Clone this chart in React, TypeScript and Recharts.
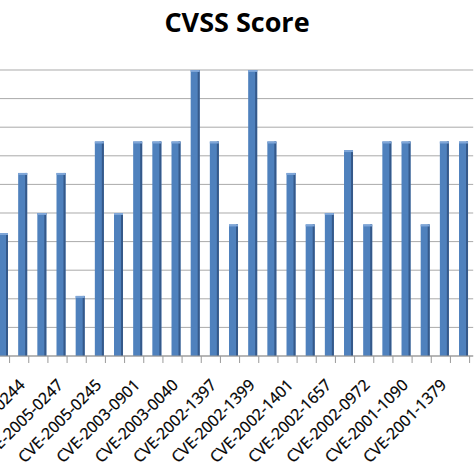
import { BarChart, Bar, XAxis, YAxis, CartesianGrid } from 'recharts'

// categories shown on the axis (every other bar carries a label)
const labels = [
  '', 'CVE-2005-0244', '', 'CVE-2005-0247', '', 'CVE-2005-0245', '', 'CVE-2003-0901',
  '', 'CVE-2003-0040', '', 'CVE-2002-1397', '', 'CVE-2002-1399', '', 'CVE-2002-1401',
  '', 'CVE-2002-1657', '', 'CVE-2002-0972', '', 'CVE-2001-1090', '', 'CVE-2001-1379', ''
]

const scores = [
  4.3, 6.4, 5.0, 6.4, 2.1, 7.5, 5.0, 7.5, 7.5, 7.5, 10.0, 7.5, 4.6,
  10.0, 7.5, 6.4, 4.6, 5.0, 7.2, 4.6, 7.5, 7.5, 4.6, 7.5, 7.5
]

const yTicks = [0, 1, 2, 3, 4, 5, 6, 7, 8, 9, 10]

const data = scores.map((v, i) => ({ idx: i, score: v }))

const Column = (props: any) => {
  const { x, y, width, height } = props
  if (!height || height <= 0) return null
  return (
    <g>
      <rect x={x} y={y} width={width} height={height} fill="#4f81bd" />
      <rect x={x + width - 2} y={y} width={2} height={height} fill="#35598a" />
      <rect x={x} y={y} width={width} height={2} fill="#7fa6d8" />
    </g>
  )
}

const Tick = (props: any) => {
  const { x, y, payload } = props
  const text = labels[payload.value] || ''
  const ax = x + 3
  const ay = y + 30
  return (
    <g>
      <line x1={x + 6} y1={y} x2={x + 6} y2={y + 7} stroke="#9a9a9a" />
      {text && (
        <text
          x={ax}
          y={ay}
          textAnchor="end"
          transform={`rotate(-45 ${ax} ${ay})`}
          fontFamily="'Open Sans', sans-serif"
          fontSize={15.7}
          fill="#000"
          stroke="#000"
          strokeWidth={0.25}
        >
          {text}
        </text>
      )}
    </g>
  )
}

export default function App () {
  return (
    <div style={{ position: 'fixed', left: 0, top: 0, width: 474, height: 474, overflow: 'hidden', background: '#fff' }}>
      <div
        style={{
          position: 'absolute',
          top: 8,
          left: 0,
          width: 474,
          textAlign: 'center',
          fontFamily: "'Open Sans', sans-serif",
          fontWeight: 700,
          fontSize: 27,
          lineHeight: '27px',
          color: '#000'
        }}
      >
        CVSS Score
      </div>
      <div style={{ position: 'absolute', left: -45.6, top: 0 }}>
        <BarChart width={519.2} height={474} data={data} margin={{ top: 70, right: 0, left: 0, bottom: 0 }}>
          <CartesianGrid vertical={false} stroke="#aaaaaa" />
          <XAxis
            dataKey="idx"
            type="category"
            interval={0}
            height={118}
            tickLine={false}
            tickSize={0}
            tickMargin={0}
            axisLine={{ stroke: '#9a9a9a' }}
            tick={<Tick />}
          />
          <YAxis width={40} domain={[0, 10]} ticks={yTicks} axisLine={{ stroke: '#9a9a9a' }} tickLine={false} />
          <Bar dataKey="score" barSize={9} shape={<Column />} isAnimationActive={false} />
        </BarChart>
      </div>
    </div>
  )
}
